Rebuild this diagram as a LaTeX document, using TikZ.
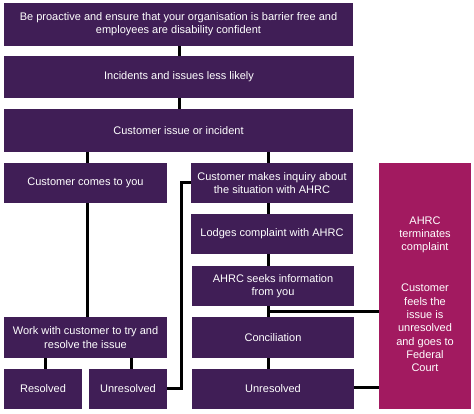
\documentclass[tikz,border=0pt]{standalone}
\usepackage{fontspec}
\setmainfont{Liberation Sans}
\usetikzlibrary{backgrounds}
\definecolor{dpurple}{RGB}{64,30,86}
\definecolor{dmagenta}{RGB}{162,26,96}
\begin{document}
\begin{tikzpicture}[x=1pt,y=-1pt,
  box/.style={fill=dpurple,text=white,draw=none,inner sep=1pt,align=center,font=\fontsize{11}{13.3}\selectfont},
  link/.style={draw=black,line width=3pt}]
\useasboundingbox (0,0) rectangle (474,414);
\node[box,minimum width=349pt,minimum height=43pt] (b1) at (178.5,24.5) {Be proactive and ensure that your organisation is barrier free and\\employees are disability confident};
\node[box,minimum width=350pt,minimum height=42pt] (b2) at (179,77) {Incidents and issues less likely};
\node[box,minimum width=349pt,minimum height=43pt] (b3) at (178.5,130.5) {Customer issue or incident};
\node[box,minimum width=163pt,minimum height=40pt] (comes) at (85.5,183) {Customer comes to you};
\node[box,minimum width=163pt,minimum height=41pt] (work) at (85.5,337.5) {Work with customer to try and\\resolve the issue};
\node[box,minimum width=78pt,minimum height=40pt] (res) at (43,389) {Resolved};
\node[box,minimum width=78pt,minimum height=40pt] (unl) at (128,389) {Unresolved};
\node[box,minimum width=162pt,minimum height=40pt] (inq) at (272,183) {Customer makes inquiry about\\the situation with AHRC};
\node[box,minimum width=162pt,minimum height=40pt] (lodge) at (272,234) {Lodges complaint with AHRC};
\node[box,minimum width=162pt,minimum height=40pt] (seek) at (273,286) {AHRC seeks information\\from you};
\node[box,minimum width=162pt,minimum height=41pt] (conc) at (273,337.5) {Conciliation};
\node[box,minimum width=162pt,minimum height=40pt] (unr) at (273,389) {Unresolved};
\node[box,fill=dmagenta,minimum width=92pt,minimum height=246pt] (mag) at (425,286) {};
\node[box,fill=none] (magt1) at (425,235) {AHRC\\terminates\\complaint};
\node[box,fill=none] (magt2) at (425,328) {Customer\\feels the\\issue is\\unresolved\\and goes to\\Federal\\Court};
\coordinate (cx) at (268,0);
\coordinate (lx) at (87,0);
\coordinate (rx) at (45,0);
\coordinate (ux) at (131,0);
\coordinate (vx) at (181,0);
\coordinate (my) at (0,311);
\coordinate (uy) at (0,388);
\coordinate (ry) at (0,387);
\coordinate (iy) at (0,183);
\begin{scope}[on background layer]
\draw[link] (b1.south -| 179,0) -- (b2.north -| 179,0);
\draw[link] (b2.south -| 179,0) -- (b3.north -| 179,0);
\draw[link] (b3.south -| lx) -- (comes.north -| lx);
\draw[link] (b3.south -| cx) -- (inq.north -| cx);
\draw[link] (comes.south -| lx) -- (work.north -| lx);
\draw[link] (work.south -| rx) -- (res.north -| rx);
\draw[link] (work.south -| ux) -- (unl.north -| ux);
\draw[link] (inq.south -| cx) -- (unr.north -| cx);
\draw[link] (seek.south -| cx) |- (mag.west |- my);
\draw[link] (unr.east |- ry) -- (mag.west |- ry);
\draw[link,line join=miter] (unl.east |- uy) -| (vx |- iy) -- (inq.west |- iy);
\end{scope}
\end{tikzpicture}
\end{document}
